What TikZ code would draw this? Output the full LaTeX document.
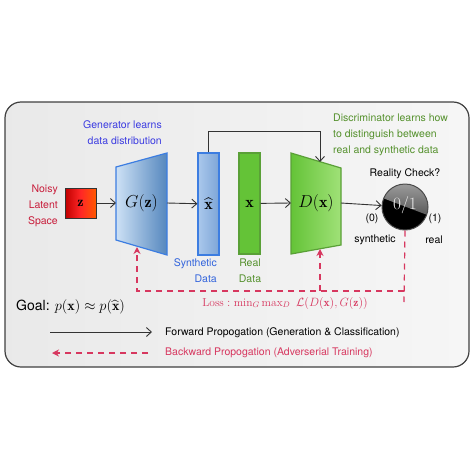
\documentclass[tikz,border=0pt]{standalone}
\usepackage{amsmath,amssymb}
\usepackage{fontspec}
\setsansfont{TeX Gyre Heros}
\usetikzlibrary{arrows.meta,calc}
\definecolor{redtxt}{RGB}{200,30,60}
\definecolor{dashred}{RGB}{215,55,95}
\definecolor{gentxt}{RGB}{60,60,225}
\definecolor{syntxt}{RGB}{50,100,220}
\definecolor{grntxt}{RGB}{85,145,45}
\definecolor{gblue}{RGB}{60,125,225}
\definecolor{lblue}{RGB}{205,225,245}
\definecolor{dblue}{RGB}{85,135,190}
\definecolor{bblue}{RGB}{170,200,236}
\definecolor{mblue}{RGB}{125,165,215}
\definecolor{ggreen}{RGB}{90,160,55}
\definecolor{bgreen}{RGB}{100,195,55}
\definecolor{lgreen}{RGB}{160,225,120}
\tikzset{
  txt/.style={font=\sffamily\fontsize{10.5}{16}\selectfont, inner sep=0pt},
  fwd/.style={draw=black!80, line width=0.9pt, -{Straight Barb[length=5pt,width=9pt]}},
  bwd/.style={draw=dashred, line width=1.2pt, dash pattern=on 6pt off 5pt},
  bar/.style={draw, line width=1.2pt, minimum width=21, inner sep=0pt,
    font=\fontsize{16}{16}\selectfont},
}
\begin{document}
\begin{tikzpicture}[x=1pt,y=-1pt]
\useasboundingbox (0,0) rectangle (474,474);
% Rahmen
\draw[rounded corners=16, line width=1.2pt, draw=black!75, left color=gray!17, right color=gray!7]
  (5,102) rectangle (469,367);
% Generator
\node[txt, redtxt, align=right, anchor=east] (noisy) at (58,206) {Noisy\\Latent\\Space};
\node[draw=black!80, line width=1pt, minimum width=31, minimum height=30, inner sep=0pt,
  left color=red!75!black, right color=orange!70!red, middle color=red!85,
  font=\fontsize{14}{14}\selectfont] (z) at (80.5,203) {$\mathbf{z}$};
\draw[draw=gblue, line width=1.2pt, left color=lblue, right color=dblue]
  (116,167) -- (167,153) -- (167,255) -- (116,240) -- cycle;
\node[font=\fontsize{16}{16}\selectfont] (G) at (141.5,203) {$G(\mathbf{z})$};
\coordinate (Gin) at (116,203);
\coordinate (Gout) at (167,203);
\node[txt, gentxt, align=right, anchor=east] (genlbl) at (162,133) {Generator learns\\data distribution};
\draw[fwd] (z) -- (Gin);
% Daten
\node[bar, draw=gblue, minimum height=102, left color=bblue, right color=mblue]
  (xh) at (208.5,204) {$\widehat{\mathbf{x}}$};
\node[txt, syntxt, align=right, anchor=east] (synlbl) at (217,271) {Synthetic\\Data};
\node[bar, draw=ggreen, minimum height=101, left color=bgreen, middle color=lgreen!80!bgreen,
  right color=bgreen] (xr) at (249.5,203.5) {$\mathbf{x}$};
\node[txt, grntxt, align=center] (reallbl) at (250,271) {Real\\Data};
\draw[fwd] (Gout) -- (xh);
% Diskriminator
\draw[draw=ggreen, line width=1.2pt, left color=bgreen, right color=lgreen]
  (291,153) -- (341,168) -- (341,245) -- (291,254) -- cycle;
\node[font=\fontsize{16}{16}\selectfont] (D) at (316,203) {$D(\mathbf{x})$};
\coordinate (Din) at (291,203);
\coordinate (Dout) at (341,203);
\coordinate (Dtop) at (320,162);
\coordinate (Dbot) at (320,249);
\coordinate (Gbot) at (137,247);
\node[txt, grntxt, align=left, anchor=west] (dislbl) at (333,135)
  {Discriminator learns how\\to distinguish between\\real and synthetic data};
\draw[fwd] (xr) -- (Din);
\draw[fwd] (xh.north) -- ++(0,-21) -| (Dtop);
% Realitaetscheck
\node[circle, draw=black!70, line width=1pt, fill=black, minimum size=46, inner sep=0pt,
  path picture={\shade[top color=gray!75, bottom color=gray!45!black]
    ($(path picture bounding box.center)+(-25,-10)$) -- ($(path picture bounding box.center)+(25,9)$)
    -- ($(path picture bounding box.center)+(25,-25)$) -- ($(path picture bounding box.center)+(-25,-25)$) -- cycle;}]
  (chk) at (405,207) {};
\node[text=white!85!gray, font=\fontsize{18}{18}\selectfont] (chkval) at (405,205) {$0/1$};
\draw[fwd] (Dout) -- (chk);
\node[txt] (chklbl) at (405,174) {Reality Check?};
\node[txt] (zero) at (372,219) {(0)};
\node[txt] (one) at (435,219) {(1)};
\node[txt] (synth) at (375,240) {synthetic};
\node[txt] (real) at (434,240) {real};
% Verlust
\coordinate (lossL) at (137,291);
\coordinate (lossM) at (320,291);
\coordinate (lossR) at (404,291);
\coordinate (chkend) at (404,302);
\draw[bwd] (chk.south) -- (chkend);
\draw[bwd, -{Stealth[length=7pt,width=7pt]}] (lossR) -- (lossL) -- (Gbot);
\draw[bwd, -{Stealth[length=7pt,width=7pt]}] (lossM) -- (Dbot);
\node[text=dashred, font=\fontsize{11.5}{12}\selectfont] (loss) at (285,303)
  {$\mathrm{Loss}: \min\nolimits_G \max\nolimits_D\ \mathcal{L}(D(\mathbf{x}), G(\mathbf{z}))$};
\node[font=\sffamily\fontsize{14}{14}\selectfont, anchor=west, inner sep=0pt] (goal) at (16,307)
  {Goal: $p(\mathbf{x}) \approx p(\widehat{\mathbf{x}})$};
% Legende
\coordinate (f0) at (50,332);
\coordinate (f1) at (152,332);
\coordinate (b0) at (148,353);
\coordinate (b1) at (52,353);
\draw[fwd] (f0) -- (f1);
\draw[bwd, -{Stealth[length=7pt,width=7pt]}] (b0) -- (b1);
\node[txt, anchor=west] (fwdlbl) at (165,333) {Forward Propogation (Generation \& Classification)};
\node[txt, anchor=west, text=dashred] (bwdlbl) at (165,353) {Backward Propogation (Adverserial Training)};
\end{tikzpicture}
\end{document}
